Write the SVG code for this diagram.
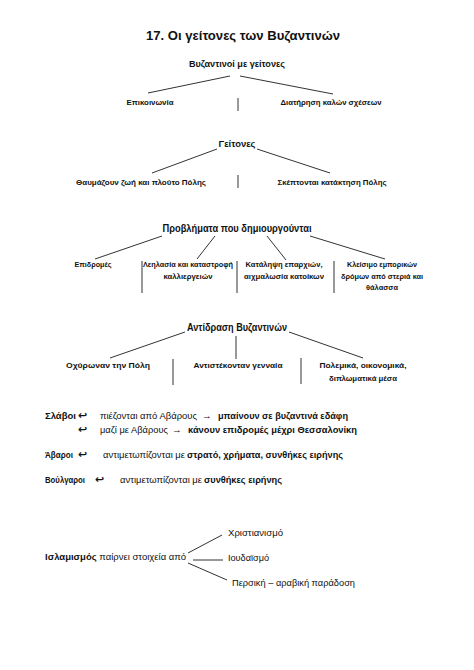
<svg xmlns="http://www.w3.org/2000/svg" width="474" height="670" viewBox="0 0 474 670">
<style>
text{font-family:"Liberation Sans",Arial,sans-serif;fill:#111}
.t{font-size:13px;font-weight:bold}
.h{font-size:9.5px;font-weight:bold}
.h2{font-size:10px;font-weight:bold}
.l{font-size:8px;font-weight:bold;text-anchor:middle}
.m{text-anchor:middle}
.r{font-size:9.5px}
.b{font-size:9.5px;font-weight:bold}
.ar{font-family:"DejaVu Sans",sans-serif;font-size:11px;font-weight:bold}
line{stroke:#333;stroke-width:1}
</style>
<rect width="474" height="670" fill="#fff"/>
<text id="title" class="t" x="243" y="40" text-anchor="middle" textLength="194" lengthAdjust="spacingAndGlyphs">17. Οι γείτονες των Βυζαντινών</text>

<g id="connectors">
<line x1="148" y1="93" x2="230" y2="76"/>
<line x1="240" y1="76" x2="333" y2="94"/>
<line x1="238" y1="98" x2="238" y2="111"/>
<line x1="152" y1="173" x2="217" y2="149"/>
<line x1="257" y1="149" x2="330" y2="173"/>
<line x1="238" y1="175" x2="238" y2="188"/>
<line x1="95" y1="259" x2="162" y2="236"/>
<line x1="197" y1="259" x2="215" y2="236"/>
<line x1="267" y1="236" x2="286" y2="260"/>
<line x1="310" y1="236" x2="385" y2="259"/>
<line x1="142" y1="261" x2="142" y2="293"/>
<line x1="237" y1="261" x2="237" y2="293"/>
<line x1="334" y1="261" x2="334" y2="293"/>
<line x1="110" y1="358" x2="185" y2="332"/>
<line x1="236" y1="336" x2="236" y2="359"/>
<line x1="289" y1="332" x2="363" y2="358"/>
<line x1="173" y1="359" x2="173" y2="385"/>
<line x1="301" y1="358" x2="301" y2="384"/>
<line x1="188" y1="553" x2="222" y2="535"/>
<line x1="193" y1="560" x2="223" y2="560"/>
<line x1="188" y1="563" x2="227" y2="580"/>
</g>

<g id="n-byz"><text class="h m" x="237" y="67" textLength="96" lengthAdjust="spacingAndGlyphs">Βυζαντινοί με γείτονες</text></g>
<g id="n-epik"><text class="l" x="150" y="105" textLength="47" lengthAdjust="spacingAndGlyphs">Επικοινωνία</text></g>
<g id="n-diat"><text class="l" x="331" y="105" textLength="101" lengthAdjust="spacingAndGlyphs">Διατήρηση καλών σχέσεων</text></g>

<g id="n-geit"><text class="h m" x="237" y="147" textLength="37" lengthAdjust="spacingAndGlyphs">Γείτονες</text></g>
<g id="n-thav"><text class="l" x="141" y="185" textLength="130" lengthAdjust="spacingAndGlyphs">Θαυμάζουν ζωή και πλούτο Πόλης</text></g>
<g id="n-skep"><text class="l" x="332" y="185" textLength="109" lengthAdjust="spacingAndGlyphs">Σκέπτονται κατάκτηση Πόλης</text></g>

<g id="n-prob"><text class="h2 m" x="237" y="232" textLength="149" lengthAdjust="spacingAndGlyphs">Προβλήματα που δημιουργούνται</text></g>
<g id="n-epid"><text class="l" x="93" y="267" textLength="37" lengthAdjust="spacingAndGlyphs">Επιδρομές</text></g>
<g id="n-leil"><text class="l" x="188" y="267" textLength="90" lengthAdjust="spacingAndGlyphs">Λεηλασία και καταστροφή</text><text class="l" x="188" y="279" textLength="49" lengthAdjust="spacingAndGlyphs">καλλιεργειών</text></g>
<g id="n-katal"><text class="l" x="284" y="267" textLength="77" lengthAdjust="spacingAndGlyphs">Κατάληψη επαρχιών,</text><text class="l" x="284" y="279" textLength="80" lengthAdjust="spacingAndGlyphs">αιχμαλωσία κατοίκων</text></g>
<g id="n-kleis"><text class="l" x="382" y="267" textLength="70" lengthAdjust="spacingAndGlyphs">Κλείσιμο εμπορικών</text><text class="l" x="382" y="279" textLength="82" lengthAdjust="spacingAndGlyphs">δρόμων από στεριά και</text><text class="l" x="382" y="290" textLength="32" lengthAdjust="spacingAndGlyphs">θάλασσα</text></g>

<g id="n-antid"><text class="h2 m" x="237" y="331" textLength="100" lengthAdjust="spacingAndGlyphs">Αντίδραση Βυζαντινών</text></g>
<g id="n-oxyr"><text class="l" x="108" y="368" textLength="84" lengthAdjust="spacingAndGlyphs">Οχύρωναν την Πόλη</text></g>
<g id="n-antist"><text class="l" x="238" y="368" textLength="89" lengthAdjust="spacingAndGlyphs">Αντιστέκονταν γενναία</text></g>
<g id="n-polem"><text class="l" x="363" y="368" textLength="87" lengthAdjust="spacingAndGlyphs">Πολεμικά, οικονομικά,</text><text class="l" x="363" y="381" textLength="68" lengthAdjust="spacingAndGlyphs">διπλωματικά μέσα</text></g>

<g id="slavoi">
<text class="b" x="45" y="419">Σλάβοι</text>
<text class="ar" x="78" y="419">↩</text>
<text class="r" x="100" y="419" textLength="97" lengthAdjust="spacingAndGlyphs">πιέζονται από Αβάρους</text>
<text class="r" x="202" y="419">→</text>
<text class="b" x="218" y="419" textLength="130" lengthAdjust="spacingAndGlyphs">μπαίνουν σε βυζαντινά εδάφη</text>
<text class="ar" x="78" y="433">↩</text>
<text class="r" x="100" y="433" textLength="68" lengthAdjust="spacingAndGlyphs">μαζί με Αβάρους</text>
<text class="r" x="172" y="433">→</text>
<text class="b" x="188" y="433" textLength="169" lengthAdjust="spacingAndGlyphs">κάνουν επιδρομές μέχρι Θεσσαλονίκη</text>
</g>
<g id="avaroi">
<text class="b" x="45" y="458" textLength="28" lengthAdjust="spacingAndGlyphs">Άβαροι</text>
<text class="ar" x="78" y="458">↩</text>
<text class="r" x="103" y="458" textLength="82" lengthAdjust="spacingAndGlyphs">αντιμετωπίζονται με</text>
<text class="b" x="187" y="458" textLength="156" lengthAdjust="spacingAndGlyphs">στρατό, χρήματα, συνθήκες ειρήνης</text>
</g>
<g id="voulgaroi">
<text class="b" x="45" y="483" textLength="40" lengthAdjust="spacingAndGlyphs">Βούλγαροι</text>
<text class="ar" x="95" y="483">↩</text>
<text class="r" x="120" y="483" textLength="82" lengthAdjust="spacingAndGlyphs">αντιμετωπίζονται με</text>
<text class="b" x="204" y="483" textLength="78" lengthAdjust="spacingAndGlyphs">συνθήκες ειρήνης</text>
</g>

<g id="islam">
<text x="45" y="560" class="r"><tspan font-weight="bold">Ισλαμισμός</tspan> παίρνει στοιχεία από</text>
</g>
<g id="n-xrist"><text class="r" x="228" y="536" textLength="55" lengthAdjust="spacingAndGlyphs">Χριστιανισμό</text></g>
<g id="n-ioud"><text class="r" x="228" y="561" textLength="41" lengthAdjust="spacingAndGlyphs">Ιουδαϊσμό</text></g>
<g id="n-pers"><text class="r" x="232" y="586" textLength="123" lengthAdjust="spacingAndGlyphs">Περσική – αραβική παράδοση</text></g>
</svg>
